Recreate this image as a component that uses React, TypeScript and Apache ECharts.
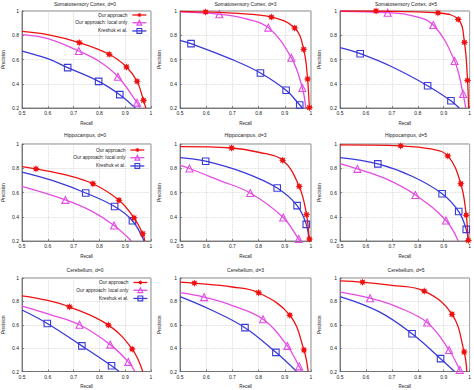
import React, { useEffect, useRef } from "react";
import * as echarts from "echarts";

// ---------- data (recall, precision) ----------
// Somatosensory Cortex d=0
const somaD0OursCurve = [[0.5, 0.832], [0.6, 0.805], [0.98, 0.2]];
const somaD0OursMarks = [[0.722, 0.739], [0.838, 0.643], [0.905, 0.538], [0.946, 0.42], [0.971, 0.263]];
const somaD0LocalCurve = [[0.5, 0.805], [0.6, 0.772], [0.8, 0.584], [0.956, 0.2]];
const somaD0LocalMarks = [[0.72, 0.67], [0.872, 0.458], [0.946, 0.244]];
const somaD0KreCurve = [[0.5, 0.67], [0.6, 0.607], [0.939, 0.2]];
const somaD0KreMarks = [[0.677, 0.533], [0.797, 0.42], [0.879, 0.31]];
// Somatosensory Cortex d=3
const somaD3OursCurve = [[0.5, 0.997], [0.7, 0.982], [0.996, 0.18]];
const somaD3OursMarks = [[0.598, 0.992], [0.849, 0.95], [0.938, 0.86], [0.972, 0.684], [0.987, 0.439], [0.994, 0.203]];
const somaD3LocalCurve = [[0.5, 0.992], [0.75, 0.937], [0.98, 0.2]];
const somaD3LocalMarks = [[0.65, 0.973], [0.837, 0.863], [0.925, 0.615], [0.967, 0.365]];
const somaD3KreCurve = [[0.5, 0.758], [0.7, 0.599], [0.967, 0.2]];
const somaD3KreMarks = [[0.542, 0.731], [0.807, 0.489], [0.905, 0.346], [0.957, 0.225]];
// Somatosensory Cortex d=5
const somaD5OursCurve = [[0.5, 1.0], [0.76, 0.995], [0.996, 0.2]];
const somaD5OursMarks = [[0.639, 1.0], [0.878, 0.984], [0.956, 0.931], [0.98, 0.742], [0.992, 0.428]];
const somaD5LocalCurve = [[0.5, 0.998], [0.78, 0.96], [0.985, 0.2]];
const somaD5LocalMarks = [[0.684, 0.986], [0.86, 0.885], [0.942, 0.588], [0.975, 0.315]];
const somaD5KreCurve = [[0.5, 0.698], [0.7, 0.54], [0.96, 0.2]];
const somaD5KreMarks = [[0.578, 0.648], [0.838, 0.384], [0.928, 0.26]];
// Hippocampus d=0
const hipD0OursCurve = [[0.5, 0.814], [0.67, 0.745], [0.976, 0.2]];
const hipD0OursMarks = [[0.554, 0.795], [0.775, 0.672], [0.876, 0.536], [0.934, 0.391], [0.968, 0.26]];
const hipD0LocalCurve = [[0.5, 0.65], [0.77, 0.446], [0.924, 0.2]];
const hipD0LocalMarks = [[0.668, 0.539], [0.857, 0.328]];
const hipD0KreCurve = [[0.5, 0.768], [0.62, 0.697], [0.973, 0.2]];
const hipD0KreMarks = [[0.747, 0.596], [0.859, 0.484], [0.928, 0.367]];
// Hippocampus d=3
const hipD3OursCurve = [[0.5, 0.978], [0.8, 0.932], [0.998, 0.2]];
const hipD3OursMarks = [[0.697, 0.967], [0.892, 0.866], [0.955, 0.65], [0.983, 0.418], [0.994, 0.216]];
const hipD3LocalCurve = [[0.5, 0.823], [0.65, 0.7], [0.96, 0.2]];
const hipD3LocalMarks = [[0.536, 0.798], [0.768, 0.596], [0.894, 0.394], [0.953, 0.216]];
const hipD3KreCurve = [[0.5, 0.888], [0.75, 0.76], [0.992, 0.2]];
const hipD3KreMarks = [[0.598, 0.858], [0.871, 0.637], [0.947, 0.492], [0.982, 0.337]];
// Hippocampus d=5
const hipD5OursCurve = [[0.5, 0.992], [0.85, 0.959], [0.997, 0.2]];
const hipD5OursMarks = [[0.734, 0.984], [0.916, 0.902], [0.966, 0.672], [0.987, 0.413], [0.995, 0.205]];
const hipD5LocalCurve = [[0.5, 0.839], [0.68, 0.71], [0.956, 0.2]];
const hipD5LocalMarks = [[0.567, 0.795], [0.791, 0.58], [0.909, 0.369]];
const hipD5KreCurve = [[0.5, 0.888], [0.78, 0.732], [0.995, 0.2]];
const hipD5KreMarks = [[0.646, 0.836], [0.894, 0.59], [0.958, 0.443], [0.987, 0.296]];
// Cerebellum d=0
const cerD0OursCurve = [[0.5, 0.847], [0.6, 0.808], [0.968, 0.2]];
const cerD0OursMarks = [[0.684, 0.753], [0.835, 0.597], [0.927, 0.392]];
const cerD0LocalCurve = [[0.5, 0.759], [0.6, 0.693], [0.938, 0.2]];
const cerD0LocalMarks = [[0.723, 0.6], [0.842, 0.43], [0.912, 0.282]];
const cerD0KreCurve = [[0.5, 0.726], [0.876, 0.2]];
const cerD0KreMarks = [[0.598, 0.611], [0.732, 0.419], [0.847, 0.249]];
// Cerebellum d=3
const cerD3OursCurve = [[0.5, 0.964], [0.7, 0.923], [0.989, 0.2]];
const cerD3OursMarks = [[0.555, 0.956], [0.8, 0.874], [0.919, 0.682], [0.973, 0.384]];
const cerD3LocalCurve = [[0.5, 0.874], [0.7, 0.764], [0.966, 0.2]];
const cerD3LocalMarks = [[0.592, 0.836], [0.817, 0.647], [0.91, 0.419], [0.955, 0.244]];
const cerD3KreCurve = [[0.5, 0.841], [0.62, 0.726], [0.945, 0.2]];
const cerD3KreMarks = [[0.748, 0.575], [0.866, 0.364]];
// Cerebellum d=5
const cerD5OursCurve = [[0.5, 0.975], [0.7, 0.937], [0.989, 0.2]];
const cerD5OursMarks = [[0.587, 0.964], [0.825, 0.888], [0.932, 0.69], [0.979, 0.367]];
const cerD5LocalCurve = [[0.5, 0.879], [0.72, 0.753], [0.966, 0.19]];
const cerD5LocalMarks = [[0.616, 0.827], [0.836, 0.619], [0.921, 0.384], [0.962, 0.214]];
const cerD5KreCurve = [[0.5, 0.841], [0.65, 0.712], [0.942, 0.2]];
const cerD5KreMarks = [[0.778, 0.523], [0.888, 0.31]];

const titles = [
  "Somatosensory Cortex, d=0", "Somatosensory Cortex, d=3", "Somatosensory Cortex, d=5",
  "Hippocampus, d=0", "Hippocampus, d=3", "Hippocampus, d=5",
  "Cerebellum, d=0", "Cerebellum, d=3", "Cerebellum, d=5",
];
const methodNames = ["Our approach", "Our approach: local only", "Kreshuk et al."];
const xTicks = { min: 0.5, max: 1, interval: 0.1 };
const yTicks = { min: 0.2, max: 1, interval: 0.2 };

const panelData = [
  [[somaD0OursCurve, somaD0OursMarks], [somaD0LocalCurve, somaD0LocalMarks], [somaD0KreCurve, somaD0KreMarks]],
  [[somaD3OursCurve, somaD3OursMarks], [somaD3LocalCurve, somaD3LocalMarks], [somaD3KreCurve, somaD3KreMarks]],
  [[somaD5OursCurve, somaD5OursMarks], [somaD5LocalCurve, somaD5LocalMarks], [somaD5KreCurve, somaD5KreMarks]],
  [[hipD0OursCurve, hipD0OursMarks], [hipD0LocalCurve, hipD0LocalMarks], [hipD0KreCurve, hipD0KreMarks]],
  [[hipD3OursCurve, hipD3OursMarks], [hipD3LocalCurve, hipD3LocalMarks], [hipD3KreCurve, hipD3KreMarks]],
  [[hipD5OursCurve, hipD5OursMarks], [hipD5LocalCurve, hipD5LocalMarks], [hipD5KreCurve, hipD5KreMarks]],
  [[cerD0OursCurve, cerD0OursMarks], [cerD0LocalCurve, cerD0LocalMarks], [cerD0KreCurve, cerD0KreMarks]],
  [[cerD3OursCurve, cerD3OursMarks], [cerD3LocalCurve, cerD3LocalMarks], [cerD3KreCurve, cerD3KreMarks]],
  [[cerD5OursCurve, cerD5OursMarks], [cerD5LocalCurve, cerD5LocalMarks], [cerD5KreCurve, cerD5KreMarks]],
];

// ---------- styling / layout ----------
const RED = "#ee1111";
const MAGENTA = "#e44ce4";
const BLUE = "#3a3ad8";
const FONT = "Liberation Sans";
const TXT = "#222";

const colLeft = [19, 180, 340];
const colWidth = [132, 131, 132];
const rowTop = [11, 144, 278];
const rowHeight = 97;
const yNameGap = [16, 18, 18];
const titleY = [3.5, 135, 270];

function starPath(): string {
  const pts: string[] = [];
  for (let i = 0; i < 16; i++) {
    const a = (i * Math.PI) / 8;
    const r = i % 2 === 0 ? 10 : 5.5;
    const x = 10 + r * Math.cos(a);
    const y = 10 + r * Math.sin(a);
    pts.push((i === 0 ? "M" : "L") + x.toFixed(2) + "," + y.toFixed(2));
  }
  return "path://" + pts.join(" ") + " Z";
}

function buildLine(curve: number[][], marks: number[][]) {
  const items: any[] = [];
  curve.forEach((p) => items.push({ value: p, symbol: "none" }));
  marks.forEach((p) => items.push({ value: p }));
  items.sort((a, b) => a.value[0] - b.value[0]);
  return items;
}

export default function App() {
  const ref = useRef<HTMLDivElement>(null);
  useEffect(() => {
    if (!ref.current) return;
    const chart = echarts.init(ref.current, null, { renderer: "svg" });
    const star = starPath();
    const grids: any[] = [];
    const xAxes: any[] = [];
    const yAxes: any[] = [];
    const series: any[] = [];
    const graphics: any[] = [];
    const legends: any[] = [];
    const methodStyles = [
      { color: RED, symbol: star, size: 7.5, itemStyle: { color: RED, borderWidth: 0 } },
      { color: MAGENTA, symbol: "triangle", size: 7, itemStyle: { color: "rgba(0,0,0,0)", borderColor: MAGENTA, borderWidth: 1.1 } },
      { color: BLUE, symbol: "rect", size: 6.5, itemStyle: { color: "rgba(0,0,0,0)", borderColor: BLUE, borderWidth: 1.1 } },
    ];
    const axisLabelX = { fontSize: 5, color: TXT, fontFamily: FONT, margin: 2.5 };
    const axisLabelY = { fontSize: 5, color: TXT, fontFamily: FONT, margin: 3 };
    const axisCommon = {
      axisLine: { show: true, lineStyle: { color: "#666", width: 0.8 } },
      axisTick: { show: true, inside: true, length: 2, lineStyle: { color: "#666", width: 0.8 } },
      splitLine: { show: true, lineStyle: { color: "#d0d0d0", type: "dotted", width: 0.8 } },
    };
    for (let i = 0; i < 9; i++) {
      const r = Math.floor(i / 3);
      const c = i % 3;
      grids.push({
        left: colLeft[c], top: rowTop[r], width: colWidth[c], height: rowHeight,
        show: true, borderColor: "#666", borderWidth: 0.8, backgroundColor: "transparent",
      });
      xAxes.push({
        type: "value", gridIndex: i, min: xTicks.min, max: xTicks.max, interval: xTicks.interval,
        name: "Recall", nameLocation: "middle", nameGap: 12.5,
        nameTextStyle: { fontSize: 4.5, color: TXT, fontFamily: FONT },
        axisLabel: axisLabelX,
        ...axisCommon,
      });
      yAxes.push({
        type: "value", gridIndex: i, min: yTicks.min, max: yTicks.max, interval: yTicks.interval,
        name: "Precision", nameLocation: "middle", nameGap: yNameGap[c],
        nameTextStyle: { fontSize: 4.5, color: TXT, fontFamily: FONT },
        axisLabel: axisLabelY,
        ...axisCommon,
      });
      graphics.push({
        type: "text", x: colLeft[c] + colWidth[c] / 2, y: titleY[r],
        style: { text: titles[i], fontSize: 5, fill: TXT, fontFamily: FONT, textAlign: "center", textVerticalAlign: "middle" },
      });
      panelData[i].forEach((pair, m) => {
        const st = methodStyles[m];
        series.push({
          type: "line", name: methodNames[m], xAxisIndex: i, yAxisIndex: i,
          data: buildLine(pair[0], pair[1]),
          smooth: 0.4,
          symbol: st.symbol, symbolSize: st.size, showSymbol: true,
          lineStyle: { color: st.color, width: 1.3 },
          itemStyle: st.itemStyle,
          clip: true, z: 10 - m,
        });
      });
    }
    // legends in first column
    const legendTops = [12.5, 147.5, 280];
    const legendRights = [327, 329, 326];
    const legendData = methodNames.map((n, m) => ({
      name: n,
      itemStyle: methodStyles[m].itemStyle,
      lineStyle: { color: methodStyles[m].color, width: 1.3 },
    }));
    for (let r = 0; r < 3; r++) {
      legends.push({
        orient: "vertical", right: legendRights[r], top: legendTops[r], align: "right",
        itemWidth: 14, itemHeight: 6, itemGap: 2.3, padding: 0,
        textStyle: { fontSize: 4.8, color: TXT, fontFamily: FONT },
        data: legendData, selectedMode: false,
      });
    }
    chart.setOption({
      animation: false,
      backgroundColor: "#fff",
      grid: grids,
      xAxis: xAxes,
      yAxis: yAxes,
      legend: legends,
      series,
      graphic: graphics,
    });
    return () => chart.dispose();
  }, []);
  return <div ref={ref} style={{ position: "fixed", left: 0, top: 0, width: 474, height: 390 }} />;
}
